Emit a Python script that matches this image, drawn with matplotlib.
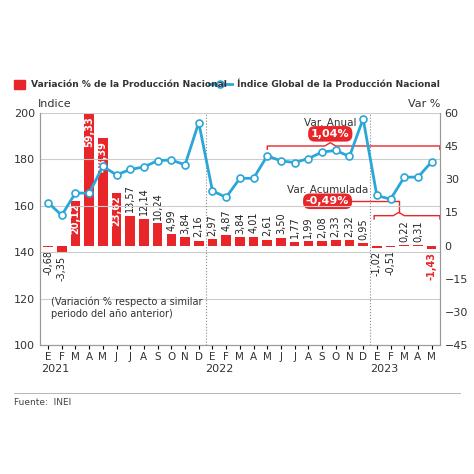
import numpy as np
import matplotlib.pyplot as plt
from matplotlib.patches import Rectangle

months = ["E","F","M","A","M","J","J","A","S","O","N","D"] * 2 + ["E","F","M","A","M"]
indice = [161.3, 155.9, 165.5, 165.4, 176.9, 173.3, 175.6, 176.7, 179.4, 179.7, 177.6, 195.8,
          166.4, 163.6, 171.8, 171.8, 181.5, 179.3, 178.6, 180.3, 183.1, 183.8, 181.2, 197.4,
          164.4, 162.8, 172.3, 172.3, 178.9]
variacion = [-0.68, -3.35, 20.12, 59.33, 48.39, 23.62, 13.57, 12.14, 10.24, 4.99, 3.84, 2.16,
             2.97, 4.87, 3.84, 4.01, 2.61, 3.50, 1.77, 1.99, 2.08, 2.33, 2.32, 0.95,
             -1.02, -0.51, 0.22, 0.31, -1.43]

RED = "#e8262a"
BLUE = "#2aa6d8"
x = np.arange(len(indice))

fig = plt.figure(figsize=(4.74, 4.74), dpi=100)
ax = fig.add_axes([0.084, 0.272, 0.844, 0.49])
ax2 = ax.twinx()
ax.set_zorder(ax2.get_zorder() + 1)
ax.patch.set_visible(False)

ax.set_ylim(100, 200)
ax.set_yticks(range(100, 201, 20))
ax2.set_ylim(-45, 60)
ax2.set_yticks(range(-45, 61, 15))
ax.set_xlim(-0.6, 28.6)
for yv in range(120, 201, 20):
    ax.axhline(yv, color="#cccccc", lw=0.8, zorder=0)

ax2.bar(x, variacion, width=0.7, color=RED, zorder=2)
last = len(variacion) - 1
for xi, v in zip(x, variacion):
    s = f"{v:.2f}".replace(".", ",")
    if v > 19:
        ax2.text(xi, v - 1, s, rotation=90, ha="center", va="top",
                 color="white", fontsize=7, fontweight="bold")
    elif v >= 0:
        ax2.text(xi, v + 1.5, s, rotation=90, ha="center", va="bottom",
                 color="#222222", fontsize=7)
    else:
        red = xi == last
        ax2.text(xi, v - 1.5, s, rotation=90, ha="center", va="top",
                 color=RED if red else "#222222", fontsize=7,
                 fontweight="bold" if red else "normal")

ax.plot(x, indice, color=BLUE, lw=2, marker="o", ms=5, mfc="white", mec=BLUE, mew=1.2, zorder=5)

for xv in (11.5, 23.5):
    ax.axvline(xv, color="#888888", lw=0.8, ls=":", zorder=1)

# brackets
def bracket(x0, x1, xc, y, h=1.5):
    ax2.plot([x0, x0, xc - 0.4, xc, xc + 0.4, x1, x1],
             [y - h, y, y, y + h, y, y, y - h], color=RED, lw=1, zorder=6, clip_on=False)

bracket(16, 28.6, 20.6, 45)
bracket(23.8, 28.6, 25.6, 13.5)
ax2.plot([22, 25.6, 25.6], [20, 20, 15], color=RED, lw=1, zorder=6)
ax2.text(20.6, 55.5, "Var. Anual", ha="center", va="center", fontsize=7.5, color="#333333")
ax2.text(20.6, 50.5, "1,04%", ha="center", va="center", fontsize=8, color="white", fontweight="bold",
         bbox=dict(boxstyle="round,pad=0.25,rounding_size=0.6", fc=RED, ec="none"), zorder=7)
ax2.text(20.4, 25, "Var. Acumulada", ha="center", va="center", fontsize=7.5, color="#333333")
ax2.text(20.4, 20, "-0,49%", ha="center", va="center", fontsize=8, color="white", fontweight="bold",
         bbox=dict(boxstyle="round,pad=0.25,rounding_size=0.6", fc=RED, ec="none"), zorder=7)

ax.text(0.2, 116, "(Variación % respecto a similar\nperiodo del año anterior)", fontsize=7,
        color="#333333", va="center")

ax.set_xticks(x)
ax.set_xticklabels(months, fontsize=7.5, color="#333333")
ax.tick_params(axis="x", length=3, pad=2)
ax.tick_params(axis="y", labelsize=8, colors="#333333", length=0)
ax2.tick_params(axis="y", labelsize=8, colors="#333333", length=0)
for yr, xi in (("2021", 0), ("2022", 12), ("2023", 24)):
    ax.text(xi - 0.5, 88.5, yr, fontsize=8, color="#333333", ha="left")
for a in (ax, ax2):
    a.spines["top"].set_visible(False)
    for s in ("left", "right", "bottom"):
        a.spines[s].set_color("#999999")

fig.text(0.08, 0.775, "Indice", fontsize=8, color="#333333")
fig.text(0.93, 0.775, "Var %", fontsize=8, color="#333333", ha="right")

fig.patches.append(Rectangle((0.03, 0.813), 0.022, 0.018, transform=fig.transFigure, color=RED))
fig.text(0.065, 0.822, "Variación % de la Producción Nacional", fontsize=6.6, va="center",
         fontweight="bold", color="#333333")
fig.lines.append(plt.Line2D([0.44, 0.49], [0.822, 0.822], transform=fig.transFigure, color=BLUE, lw=2))
fig.lines.append(plt.Line2D([0.465], [0.822], transform=fig.transFigure, color=BLUE, marker="o",
                            ms=5, mfc="white", mew=1.2))
fig.text(0.50, 0.822, "Índice Global de la Producción Nacional", fontsize=6.6, va="center",
         fontweight="bold", color="#333333")

fig.lines.append(plt.Line2D([0.03, 0.97], [0.17, 0.17], transform=fig.transFigure, color="#aaaaaa", lw=0.6))
fig.text(0.03, 0.145, "Fuente:  INEI", fontsize=6.5, color="#444444")

fig.savefig("out.png", dpi=100)
